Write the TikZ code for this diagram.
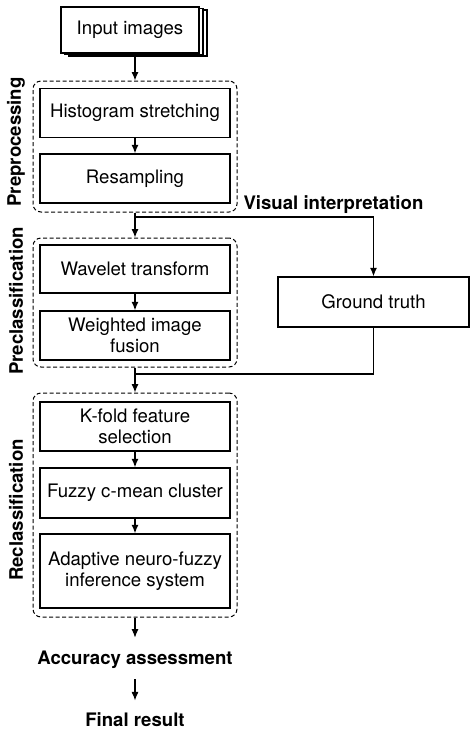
\documentclass[tikz,border=0pt]{standalone}
\usepackage{fontspec}
\setmainfont{TeX Gyre Heros}
\usetikzlibrary{arrows.meta,shadows}

\begin{document}
\begin{tikzpicture}[x=1pt,y=-1pt,
    every node/.style={font=\fontsize{18.6}{21}\selectfont},
    stepbox/.style={draw, line width=1.4pt, fill=white, minimum width=190pt, minimum height=49pt, align=center, inner sep=2pt},
    groupbox/.style={draw, dash pattern=on 4pt off 2.5pt, line width=1pt, rounded corners=8pt, minimum width=204pt},
    sidelabel/.style={rotate=90, font=\fontsize{18.6}{21}\selectfont\bfseries},
    boldlabel/.style={font=\fontsize{18.6}{21}\selectfont\bfseries},
    flow/.style={-{Latex[length=8.5pt,width=7pt]}, line width=1.1pt}]
    \colorlet{ink}{black!90}

    \useasboundingbox (0,0) rectangle (474,732);

    %% input
    \node[stepbox, minimum width=138pt, minimum height=46pt, double copy shadow={shadow xshift=4pt, shadow yshift=-1.5pt}] (input) at (130,30) {Input images};

    %% preprocessing
    \node[groupbox, minimum height=131pt] (pre) at (135,146.5) {};
    \node[stepbox] (hist) at (135,113) {Histogram stretching};
    \node[stepbox] (resamp) at (135,178.5) {Resampling};
    \node[sidelabel] (prelab) at (16,142) {Preprocessing};

    %% preclassification
    \node[groupbox, minimum height=129pt] (precl) at (135,302.5) {};
    \node[stepbox, minimum height=48pt] (wave) at (135,269) {Wavelet transform};
    \node[stepbox] (fusion) at (135,335.5) {Weighted image\\fusion};
    \node[sidelabel] (precllab) at (16,301) {Preclassification};

    %% ground truth
    \node[stepbox, minimum width=191pt, minimum height=50pt] (gt) at (373.5,302) {Ground truth};
    \node[boldlabel, anchor=west] (vis) at (240,205) {Visual interpretation};

    %% reclassification
    \node[groupbox, minimum height=224pt] (recl) at (135,505) {};
    \node[stepbox] (kfold) at (135,426.5) {K-fold feature\\selection};
    \node[stepbox, minimum height=50pt] (fuzzy) at (135,493) {Fuzzy c-mean cluster};
    \node[stepbox, minimum height=74pt] (anfis) at (135,571) {Adaptive neuro-fuzzy\\inference system};
    \node[sidelabel] (recllab) at (16,510) {Reclassification};

    %% results
    \node[boldlabel] (acc) at (135,660) {Accuracy assessment};
    \node[boldlabel] (final) at (135,720) {Final result};

    \coordinate (split) at (135,217);
    \coordinate (merge) at (135,374);

    \draw[flow] (input.south -| pre.north) -- (pre.north);
    \draw[flow] (hist) -- (resamp);
    \draw[flow] (pre) -- (precl);
    \draw[flow] (split) -| (gt);
    \draw[flow] (wave) -- (fusion);
    \draw[line width=1.1pt] (gt) |- (merge);
    \draw[flow] (precl) -- (recl);
    \draw[flow] (kfold) -- (fuzzy);
    \draw[flow] (fuzzy) -- (anfis);
    \draw[flow, shorten >=10pt] (recl) -- (acc);
    \draw[flow, shorten <=7pt, shorten >=9pt] (acc) -- (final);

\end{tikzpicture}
\end{document}
